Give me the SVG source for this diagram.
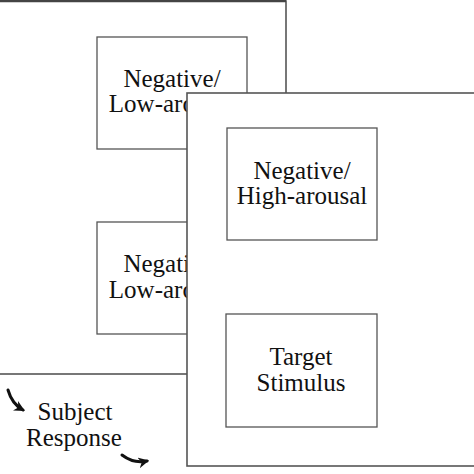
<svg xmlns="http://www.w3.org/2000/svg" width="474" height="474" viewBox="0 0 474 474">
<defs>
<style>
.panel{fill:#fff;stroke:#555;stroke-width:1.6}
.box{fill:#fff;stroke:#555;stroke-width:1.3}
.t{font-family:"Liberation Serif","Times New Roman",serif;font-size:25px;fill:#111;text-anchor:middle}
.arr{fill:none;stroke:#111;stroke-width:3;stroke-linecap:round}
</style>
<marker id="ah" viewBox="0 0 10 10" refX="8" refY="5" markerWidth="3.6" markerHeight="3.6" orient="auto" markerUnits="strokeWidth">
<path d="M0,0 L10,5 L0,10 L3,5 Z" fill="#111"/>
</marker>
</defs>
<rect width="474" height="474" fill="#fff"/>
<g id="back-panel">
<rect class="panel" x="-2" y="1" width="288" height="373"/>
<line x1="0" y1="1" x2="286" y2="1" stroke="#444" stroke-width="2.4"/>
</g>
<g id="node-neg-low-1">
<rect class="box" x="97" y="37" width="150" height="112"/>
<text class="t" x="172" y="87">Negative/</text>
<text class="t" x="172" y="112">Low-arousal</text>
</g>
<g id="node-neg-low-2">
<rect class="box" x="97" y="222" width="150" height="112"/>
<text class="t" x="172" y="272">Negative/</text>
<text class="t" x="172" y="298">Low-arousal</text>
</g>
<g id="front-panel">
<rect class="panel" x="187" y="93" width="300" height="373"/>
</g>
<g id="node-neg-high">
<rect class="box" x="227" y="128" width="150" height="112"/>
<text class="t" x="302" y="179">Negative/</text>
<text class="t" x="302" y="204">High-arousal</text>
</g>
<g id="node-target">
<rect class="box" x="226" y="314" width="151" height="113"/>
<text class="t" x="301" y="365">Target</text>
<text class="t" x="301" y="391">Stimulus</text>
</g>
<g id="subject-response">
<text class="t" x="75" y="420">Subject</text>
<text class="t" x="74" y="446">Response</text>
</g>
<g id="connectors">
<path class="arr" d="M8,390 Q12,404 23,410" marker-end="url(#ah)"/>
<path class="arr" d="M122,455 Q134,464 147,461" marker-end="url(#ah)"/>
</g>
</svg>
